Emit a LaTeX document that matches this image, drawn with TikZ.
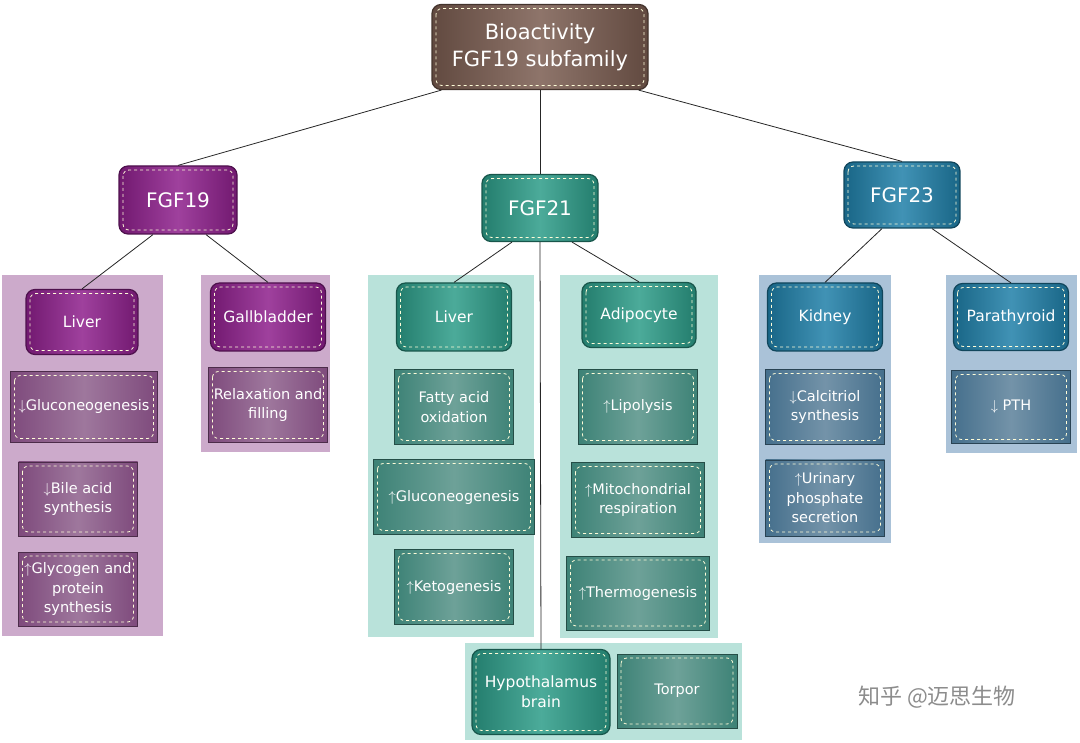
\documentclass[tikz,border=0pt]{standalone}
\usepackage{fontspec}
\setmainfont{DejaVu Sans}
\newfontfamily\cjk{Noto Sans CJK SC}
\usetikzlibrary{positioning,calc}

\definecolor{rootc}{HTML}{7A5C50}
\definecolor{purc}{HTML}{8E1F8C}
\definecolor{tealc}{HTML}{2C9C88}
\definecolor{bluec}{HTML}{1F7FA8}
\definecolor{purbg}{HTML}{CCAACB}
\definecolor{tealbg}{HTML}{B9E2DA}
\definecolor{bluebg}{HTML}{AAC2D8}
\definecolor{pureff}{HTML}{7E4A7C}
\definecolor{tealeff}{HTML}{3D8276}
\definecolor{blueeff}{HTML}{456F8C}

\tikzset{
    inner dash/.style={path picture={
        \draw[white!85!yellow, dashed, rounded corners=6pt, line width=0.8pt]
            ([shift={(4pt,-4pt)}]path picture bounding box.north west)
            rectangle ([shift={(-4pt,4pt)}]path picture bounding box.south east);}},
    hdr/.style={rounded corners=9pt, draw=#1!55!black, line width=1.2pt, inner dash,
        left color=#1!80!black, right color=#1!80!black, middle color=#1!85!white,
        text=white, align=center, font=\fontsize{15.5}{20}\selectfont},
    eff/.style={draw=#1!60!black, inner dash,
        left color=#1, right color=#1, middle color=#1!75!white,
        text=white, align=center, font=\fontsize{14.5}{19.5}\selectfont},
    link/.style={draw=black!85, line width=0.8pt},
}

\begin{document}
\begin{tikzpicture}[x=1pt, y=-1pt]
    \useasboundingbox (0,0) rectangle (1080,743);
    % background panels
    \fill[purbg] (2,275) rectangle (163,636);
    \fill[purbg] (201,275) rectangle (330,452);
    \fill[tealbg] (368,275) rectangle (534,637);
    \fill[tealbg] (560,275) rectangle (718,638);
    \fill[tealbg] (465,643) rectangle (742,740);
    \fill[bluebg] (759,275) rectangle (891,543);
    \fill[bluebg] (946,275) rectangle (1077,453);

    % top levels
    \node[hdr=rootc, minimum width=216, minimum height=85, font=\fontsize{21}{27}\selectfont] (root) at (540,47) {Bioactivity\\FGF19 subfamily};
    \node[hdr=purc, minimum width=118, minimum height=68, font=\fontsize{20}{24}\selectfont] (fgf19) at (178,200) {FGF19};
    \node[hdr=tealc, minimum width=116, minimum height=67, font=\fontsize{20}{24}\selectfont] (fgf21) at (540,208) {FGF21};
    \node[hdr=bluec, minimum width=116, minimum height=66, font=\fontsize{20}{24}\selectfont] (fgf23) at (902,195) {FGF23};

    % organs
    \node[hdr=purc, minimum width=112, minimum height=65] (liver19) at (82,322) {Liver};
    \node[hdr=purc, minimum width=115, minimum height=68] (gall) at (268,317) {Gallbladder};
    \node[hdr=tealc, minimum width=115, minimum height=68] (liver21) at (454,317) {Liver};
    \node[hdr=tealc, minimum width=114, minimum height=65] (adipo) at (639,315) {Adipocyte};
    \node[hdr=tealc, minimum width=138, minimum height=85] (hypo) at (541,692) {Hypothalamus\\brain};
    \node[hdr=bluec, minimum width=115, minimum height=68] (kidney) at (825,317) {Kidney};
    \node[hdr=bluec, minimum width=115, minimum height=67] (para) at (1011,317) {Parathyroid};

    % effects
    \node[eff=pureff, minimum width=147, minimum height=71] (glu19) at (84,407) {$\downarrow$Gluconeogenesis};
    \node[eff=pureff, minimum width=119, minimum height=74] (bile) at (78,499) {$\downarrow$Bile acid\\synthesis};
    \node[eff=pureff, minimum width=119, minimum height=74] (glyco) at (78,589) {$\uparrow$Glycogen and\\protein\\synthesis};
    \node[eff=pureff, minimum width=119, minimum height=75] (relax) at (268,405) {Relaxation and\\filling};
    \node[eff=tealeff, minimum width=119, minimum height=75] (fatty) at (454,407) {Fatty acid\\oxidation};
    \node[eff=tealeff, minimum width=161, minimum height=75] (glu21) at (454,497) {$\uparrow$Gluconeogenesis};
    \node[eff=tealeff, minimum width=119, minimum height=75] (keto) at (454,587) {$\uparrow$Ketogenesis};
    \node[eff=tealeff, minimum width=119, minimum height=75] (lipo) at (638,407) {$\uparrow$Lipolysis};
    \node[eff=tealeff, minimum width=133, minimum height=75] (mito) at (638,500) {$\uparrow$Mitochondrial\\respiration};
    \node[eff=tealeff, minimum width=143, minimum height=74] (thermo) at (638,593) {$\uparrow$Thermogenesis};
    \node[eff=tealeff, minimum width=120, minimum height=74] (torpor) at (677,691) {Torpor};
    \node[eff=blueeff, minimum width=119, minimum height=75] (calci) at (825,407) {$\downarrow$Calcitriol\\synthesis};
    \node[eff=blueeff, minimum width=119, minimum height=76] (urin) at (825,498) {$\uparrow$Urinary\\phosphate\\secretion};
    \node[eff=blueeff, minimum width=119, minimum height=73] (pth) at (1011,407) {$\downarrow$ PTH};

    % connectors
    \draw[link] (root.south west) ++(10pt,0) -- (fgf19.north);
    \draw[link] (root) -- (fgf21);
    \draw[link] (root.south east) ++(-10pt,0) -- (fgf23.north);
    \draw[link] (fgf19.south) ++(-25pt,0) -- (liver19.north);
    \draw[link] (fgf19.south) ++(28pt,0) -- (gall.north);
    \draw[link] (fgf21.south) ++(-28pt,0) -- (liver21.north);
    \draw[link] (fgf21.south) ++(32pt,0) -- (adipo.north);
    \draw[link] (fgf21.south) -- (hypo.north);
    \draw[link] (fgf23.south) ++(-20pt,0) -- (kidney.north);
    \draw[link] (fgf23.south) ++(30pt,0) -- (para.north);

    \node[text=black!45, font=\cjk\fontsize{22}{26}\selectfont] (mark) at (937,697) {知乎 @迈思生物};
\end{tikzpicture}
\end{document}
